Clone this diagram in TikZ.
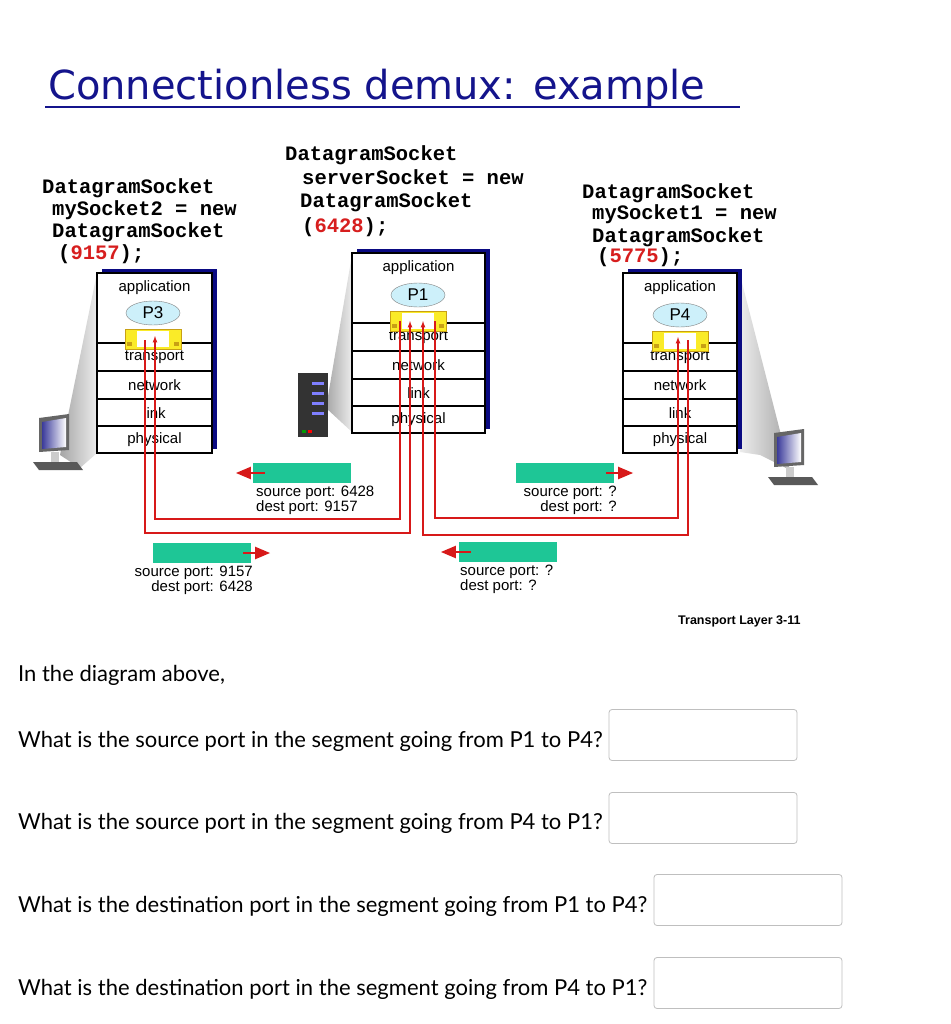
\documentclass[tikz,border=0pt]{standalone}
\usepackage{fontspec}
\setmainfont{Lato}
\newfontfamily\slidefont{DejaVu Sans}
\newfontfamily\labelfont{Liberation Sans}
\newfontfamily\codefont{Liberation Mono}
\usetikzlibrary{arrows,shapes.geometric,positioning}
\definecolor{titleblue}{RGB}{20,20,140}
\definecolor{navy}{RGB}{10,10,130}
\definecolor{codered}{RGB}{215,30,30}
\definecolor{wirered}{RGB}{215,25,25}
\definecolor{segment}{RGB}{30,198,150}
\definecolor{sockyellow}{RGB}{250,235,40}
\definecolor{sockdark}{RGB}{200,160,20}
\definecolor{procblue}{RGB}{205,240,250}

% one protocol stack: name, left x, top y, width
\newcommand\protostack[4]{%
  \fill[navy] ({#2+5},{#3-4}) rectangle ++(#4,180);
  \draw[stackline,fill=white] (#2,#3) rectangle ++(#4,180);
  \foreach \d in {70,98,126,153}
    \draw[stackline] (#2,{#3+\d}) -- ++(#4,0);
  \node[layertext] (#1app) at ({#2+#4/2},{#3+15}) {application};
  \node[layertext] (#1tr) at ({#2+#4/2},{#3+84}) {transport};
  \node[layertext] (#1net) at ({#2+#4/2},{#3+112}) {network};
  \node[layertext] (#1lnk) at ({#2+#4/2},{#3+140}) {link};
  \node[layertext] (#1phy) at ({#2+#4/2},{#3+167}) {physical};
}
% process ellipse with its socket below: name, label, centre x, centre y
\newcommand\procsock[4]{%
  \node[proc] (#1) at (#3,#4) {#2};
  \fill[sockyellow,draw=sockdark,line width=0.6pt] ({#3-28},{#4+16}) rectangle ({#3+28},{#4+36});
  \fill[white] ({#3-16},{#4+18}) rectangle ({#3+16},{#4+34});
  \fill[sockdark] ({#3-26},{#4+29}) rectangle ++(5,4);
  \fill[sockdark] ({#3+21},{#4+29}) rectangle ++(5,4);
}
% desktop computer icon at x,y
\newcommand\desktop[2]{%
  \begin{scope}[shift={(#1,#2)}]
    \fill[gray!70!black] (-22,22) -- (22,22) -- (28,30) -- (-16,30) -- cycle;
    \fill[gray!40] (-4,12) rectangle (4,22);
    \fill[gray!80!black] (-16,-22) -- (14,-26) -- (14,10) -- (-16,12) -- cycle;
    \shade[left color=navy!80,right color=white] (-13,-18) -- (11,-22) -- (11,7) -- (-13,9) -- cycle;
  \end{scope}
}

\begin{document}
\begin{tikzpicture}[x=1pt,y=-1pt,>=latex,
    stackline/.style={line width=1.6pt},
    layertext/.style={font=\labelfont\fontsize{15}{15}\selectfont,inner sep=0pt},
    proc/.style={ellipse,draw=gray,fill=procblue,minimum width=54pt,minimum height=24pt,
      inner sep=0pt,font=\labelfont\fontsize{17}{17}\selectfont},
    code/.style={font=\codefont\bfseries\fontsize{20.5}{20.5}\selectfont,inner sep=0pt,anchor=base west},
    wire/.style={wirered,line width=1.2pt},
    seg/.style={fill=segment,minimum width=98pt,minimum height=20pt,inner sep=0pt},
    segarrow/.style={-{triangle 45},wirered,line width=2.5pt},
    porttext/.style={font=\labelfont\fontsize{15}{15}\selectfont,inner sep=0pt,align=left},
    question/.style={font=\fontsize{22}{22}\selectfont,inner sep=0pt,anchor=base west},
    answer/.style={draw=gray!50,rounded corners=3pt,line width=0.8pt,minimum width=188pt,minimum height=51pt,inner sep=0pt}
  ]
  \useasboundingbox[fill=white] (0,0) rectangle (950,1024);

  % title
  \node[font=\slidefont\fontsize{40}{40}\selectfont,text=titleblue,anchor=base west,inner sep=0pt]
    (title) at (48,100) {Connectionless demux: example};
  \draw[titleblue,line width=2pt] (45,107) -- (740,107);

  % socket code
  \node[code] (lc1) at (42,194) {DatagramSocket};
  \node[code] (lc2) at (52,216) {mySocket2 = new};
  \node[code] (lc3) at (52,237) {DatagramSocket};
  \node[code] (lc4) at (58,259) {(\textcolor{codered}{9157});};
  \node[code] (mc1) at (285,161) {DatagramSocket};
  \node[code] (mc2) at (302,185) {serverSocket = new};
  \node[code] (mc3) at (300,208) {DatagramSocket};
  \node[code] (mc4) at (302,233) {(\textcolor{codered}{6428});};
  \node[code] (rc1) at (582,199) {DatagramSocket};
  \node[code] (rc2) at (592,220) {mySocket1 = new};
  \node[code] (rc3) at (592,242) {DatagramSocket};
  \node[code] (rc4) at (597,262) {(\textcolor{codered}{5775});};

  % grey view cones
  \shade[left color=gray!70,right color=gray!15] (60,455) -- (97,273) -- (97,453) -- (80,468) -- cycle;
  \shade[left color=gray!70,right color=gray!15] (326,408) -- (352,255) -- (352,432) -- cycle;
  \shade[right color=gray!70,left color=gray!15] (740,275) -- (790,470) -- (760,455) -- (740,452) -- cycle;

  % hosts
  \desktop{55}{440}
  \desktop{790}{455}
  \begin{scope}
    \fill[black!80] (298,373) rectangle (328,437);
    \foreach \yy in {382,392,402,412}
      \fill[blue!50] (312,\yy) rectangle (324,{\yy+3});
    \fill[green!60!black] (302,430) rectangle ++(4,3);
    \fill[red] (308,430) rectangle ++(4,3);
  \end{scope}

  % protocol stacks
  \protostack{left}{97}{273}{115}
  \protostack{mid}{352}{253}{133}
  \protostack{right}{623}{273}{114}
  \procsock{P3}{P3}{153}{313}
  \procsock{P1}{P1}{418}{295}
  \procsock{P4}{P4}{680}{315}

  % segment paths
  \coordinate (a1) at (145,340);  \coordinate (a2) at (145,533);
  \coordinate (a3) at (410,533);  \coordinate (a4) at (410,321);
  \coordinate (b1) at (400,321);  \coordinate (b2) at (400,519);
  \coordinate (b3) at (155,519);  \coordinate (b4) at (155,336);
  \coordinate (c1) at (688,340);  \coordinate (c2) at (688,535);
  \coordinate (c3) at (423,535);  \coordinate (c4) at (423,321);
  \coordinate (d1) at (435,321);  \coordinate (d2) at (435,518);
  \coordinate (d3) at (678,518);  \coordinate (d4) at (678,337);
  \draw[wire,->] (a1) -- (a2) -- (a3) -- (a4);
  \draw[wire,->] (b1) -- (b2) -- (b3) -- (b4);
  \draw[wire,->] (c1) -- (c2) -- (c3) -- (c4);
  \draw[wire,->] (d1) -- (d2) -- (d3) -- (d4);

  % segments in flight
  \node[seg] (s1) at (302,473) {};
  \node[seg] (s2) at (202,553) {};
  \node[seg] (s3) at (565,473) {};
  \node[seg] (s4) at (508,552) {};
  \coordinate (s1tip) at (236,473);
  \coordinate (s2tip) at (270,553);
  \coordinate (s3tip) at (633,473);
  \coordinate (s4tip) at (441,552);
  \draw[segarrow] ([xshift=12pt]s1.west) -- (s1tip);
  \draw[segarrow] ([xshift=-8pt]s2.east) -- (s2tip);
  \draw[segarrow] ([xshift=-8pt]s3.east) -- (s3tip);
  \draw[segarrow] ([xshift=12pt]s4.west) -- (s4tip);
  \node[porttext,anchor=north west] (p1) at (256,486) {source port: 6428\\dest port: 9157};
  \node[porttext,anchor=north east,align=right] (p2) at (253,566) {source port: 9157\\dest port: 6428};
  \node[porttext,anchor=north east,align=right] (p3) at (617,486) {source port: ?\\dest port: ?};
  \node[porttext,anchor=north west] (p4) at (460,565) {source port: ?\\dest port: ?};

  \node[font=\labelfont\bfseries\fontsize{12.5}{12.5}\selectfont,anchor=base west,inner sep=0pt]
    (pagenum) at (678,624) {Transport Layer 3-11};

  % questions
  \node[question] (intro) at (18,681) {In the diagram above,};
  \node[question] (q1) at (18,747) {What is the source port in the segment going from P1 to P4?};
  \node[question] (q2) at (18,829) {What is the source port in the segment going from P4 to P1?};
  \node[question] (q3) at (18,912) {What is the destination port in the segment going from P1 to P4?};
  \node[question] (q4) at (18,995) {What is the destination port in the segment going from P4 to P1?};
  \node[answer] (ans1) at (703,735) {};
  \node[answer] (ans2) at (703,818) {};
  \node[answer] (ans3) at (748,900) {};
  \node[answer] (ans4) at (748,983) {};
\end{tikzpicture}
\end{document}
